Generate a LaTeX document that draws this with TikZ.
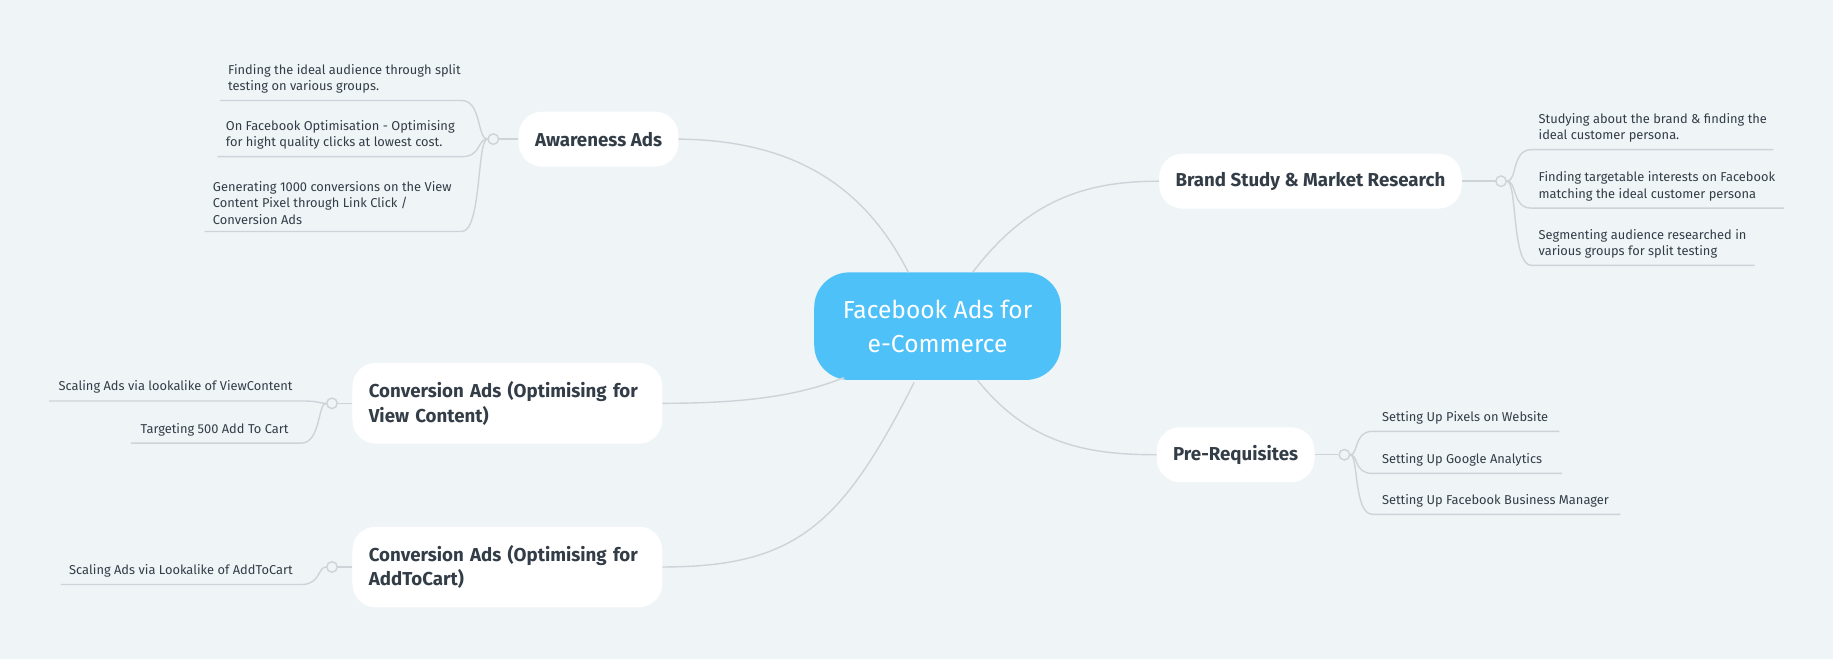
\documentclass[tikz,border=0pt]{standalone}
\usepackage{fontspec}
\setmainfont{Fira Sans}
\definecolor{bg}{HTML}{EFF4F7}
\definecolor{ln}{HTML}{CDD3D8}
\definecolor{tx}{HTML}{333D47}
\definecolor{cb}{HTML}{4FC1F9}
\begin{document}
\begin{tikzpicture}[x=1pt,y=-1pt,
  conn/.style={draw=ln,line width=1.2pt},
  branch/.style={fill=white,rounded corners=20pt,text=tx,font=\fontsize{16}{21}\selectfont\bfseries,align=left,inner xsep=14pt,inner ysep=0pt,minimum height=47pt},
  leaf/.style={anchor=south west,inner sep=0pt,align=left,text=tx,font=\fontsize{11}{14}\selectfont},
  knob/.style={circle,draw=ln,line width=1.2pt,fill=bg,inner sep=0pt,minimum size=9pt}]
\fill[bg] (0,0) rectangle (1568,564);
\useasboundingbox (0,0) rectangle (1568,564);
\node[fill=cb,rounded corners=30pt,text=white,font=\fontsize{21}{29}\selectfont,align=center,minimum width=211pt,minimum height=92pt] (c) at (802,279) {Facebook Ads for\\e-Commerce};
\node[branch] (aw) at (512,119) {Awareness Ads};
\node[branch] (bs) at (1121,155) {Brand Study \& Market Research};
\node[branch,minimum height=69pt,text width=237pt] (cv) at (434,345) {Conversion Ads (Optimising for\\View Content)};
\node[branch] (pr) at (1057,389) {Pre-Requisites};
\node[branch,minimum height=69pt,text width=237pt] (ca) at (434,485) {Conversion Ads (Optimising for\\AddToCart)};
\coordinate (c1) at (777,233);\coordinate (c2) at (832,233);\coordinate (c3) at (722,323);\coordinate (c4) at (836,325);\coordinate (c5) at (782,327);
\draw[conn] (c1) .. controls (740,160) and (680,120) .. (aw.east);
\draw[conn] (c2) .. controls (880,170) and (930,155) .. (bs.west);
\draw[conn] (c3) .. controls (680,340) and (630,345) .. (cv.east);
\draw[conn] (c4) .. controls (880,380) and (930,389) .. (pr.west);
\draw[conn] (c5) .. controls (720,450) and (680,485) .. (ca.east);
% knobs
\node[knob] (k1) at (422,119) {};
\node[knob] (k2) at (1284,155) {};
\node[knob] (k3) at (284,345) {};
\node[knob] (k4) at (1150,389) {};
\node[knob] (k5) at (284,485) {};
\draw[conn] (aw.west) -- (k1);\draw[conn] (bs.east) -- (k2);\draw[conn] (cv.west) -- (k3);\draw[conn] (pr.east) -- (k4);\draw[conn] (ca.west) -- (k5);
% awareness leaves
\node[leaf] (a1) at (195,80) {Finding the ideal audience through split\\testing on various groups.};
\node[leaf] (a2) at (193,128) {On Facebook Optimisation - Optimising\\for hight quality clicks at lowest cost.};
\node[leaf] (a3) at (182,192) {Generating 1000 conversions on the View\\Content Pixel through Link Click /\\Conversion Ads};
\foreach \y/\xs in {86/188,134/186,198/175}{
  \draw[conn] (k1.west) .. controls (408,119) and (412,\y) .. (395,\y) -- (\xs,\y);}
% brand leaves
\node[leaf] (b1) at (1316,122) {Studying about the brand \& finding the\\ideal customer persona.};
\node[leaf] (b2) at (1316,172) {Finding targetable interests on Facebook\\matching the ideal customer persona};
\node[leaf] (b3) at (1316,221) {Segmenting audience researched in\\various groups for split testing};
\foreach \y/\xe in {128/1517,178/1526,227/1501}{
  \draw[conn] (k2.east) .. controls (1298,155) and (1293,\y) .. (1310,\y) -- (\xe,\y);}
% conv view leaves
\node[leaf] (v1) at (50,337) {Scaling Ads via lookalike of ViewContent};
\node[leaf] (v2) at (120,373) {Targeting 500 Add To Cart};
\foreach \y/\xs in {343/42,379/112}{
  \draw[conn] (k3.west) .. controls (272,345) and (274,\y) .. (258,\y) -- (\xs,\y);}
% pre leaves
\node[leaf] (p1) at (1182,363) {Setting Up Pixels on Website};
\node[leaf] (p2) at (1182,399) {Setting Up Google Analytics};
\node[leaf] (p3) at (1182,434) {Setting Up Facebook Business Manager};
\foreach \y/\xe in {369/1334,405/1336,440/1386}{
  \draw[conn] (k4.east) .. controls (1162,389) and (1158,\y) .. (1174,\y) -- (\xe,\y);}
% conv add leaf
\node[leaf] (d1) at (59,494) {Scaling Ads via Lookalike of AddToCart};
\draw[conn] (k5.west) .. controls (272,485) and (274,500) .. (258,500) -- (52,500);
\end{tikzpicture}
\end{document}
